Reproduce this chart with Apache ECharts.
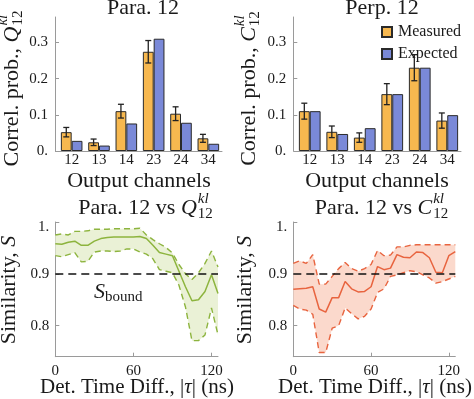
<!DOCTYPE html>
<html>
<head>
<meta charset="utf-8">
<script src="https://cdn.jsdelivr.net/npm/echarts@6/dist/echarts.min.js"></script>
<style>
  html, body { margin: 0; padding: 0; background: #fff; }
  #root { width: 474px; height: 399px; }
</style>
</head>
<body>
<div id="root"></div>
<script>
// bar panels
var channels = ['12', '13', '14', '23', '24', '34'];
var paraMeasured = [0.052, 0.024, 0.110, 0.274, 0.103, 0.035];
var paraMeasuredErr = [0.013, 0.009, 0.019, 0.031, 0.019, 0.011];
var paraExpected = [0.028, 0.015, 0.076, 0.310, 0.078, 0.020];
var perpMeasured = [0.110, 0.053, 0.037, 0.157, 0.230, 0.084];
var perpMeasuredErr = [0.022, 0.016, 0.013, 0.029, 0.036, 0.021];
var perpExpected = [0.110, 0.047, 0.063, 0.157, 0.230, 0.099];
var barTicks = [0, 0.1, 0.2, 0.3];

// similarity panels
var tau = [0, 5, 10, 15, 20, 25, 30, 35, 40, 45, 50, 55, 60, 65, 70, 75, 80, 85, 90, 95, 100, 105, 110, 115, 120, 125];
var simQ = [0.958, 0.957, 0.961, 0.963, 0.955, 0.955, 0.963, 0.968, 0.970, 0.971, 0.971, 0.971, 0.971, 0.972, 0.968, 0.955, 0.941, 0.938, 0.935, 0.905, 0.875, 0.848, 0.850, 0.866, 0.898, 0.862];
var simQUpper = [0.975, 0.977, 0.975, 0.982, 0.982, 0.983, 0.986, 0.986, 0.986, 0.987, 0.987, 0.987, 0.987, 0.988, 0.975, 0.966, 0.958, 0.951, 0.940, 0.918, 0.900, 0.889, 0.902, 0.920, 0.944, 0.913];
var simQLower = [0.935, 0.933, 0.937, 0.941, 0.923, 0.924, 0.942, 0.944, 0.944, 0.943, 0.944, 0.948, 0.948, 0.942, 0.938, 0.929, 0.908, 0.905, 0.902, 0.878, 0.836, 0.771, 0.771, 0.782, 0.834, 0.782];
var simC = [0.870, 0.871, 0.872, 0.875, 0.832, 0.826, 0.854, 0.854, 0.885, 0.871, 0.865, 0.866, 0.875, 0.914, 0.908, 0.911, 0.937, 0.932, 0.931, 0.942, 0.941, 0.931, 0.903, 0.902, 0.935, 0.943];
var simCUpper = [0.920, 0.925, 0.920, 0.937, 0.880, 0.880, 0.895, 0.910, 0.922, 0.910, 0.905, 0.910, 0.918, 0.945, 0.935, 0.936, 0.952, 0.952, 0.955, 0.956, 0.956, 0.956, 0.956, 0.956, 0.956, 0.956];
var simCLower = [0.839, 0.832, 0.830, 0.822, 0.748, 0.748, 0.795, 0.800, 0.834, 0.823, 0.813, 0.818, 0.832, 0.864, 0.871, 0.895, 0.898, 0.902, 0.906, 0.904, 0.898, 0.892, 0.882, 0.885, 0.890, 0.895];
var simBound = 0.9;
var simTicks = [0.8, 0.9, 1.0];
var tauTicks = [0, 60, 120];

var FONT = '"Liberation Serif", "Times New Roman", serif';
var INK = '#1a1a1a';
var ORANGE = '#F7B84F';
var BLUE = '#7A89D8';
var GREEN = '#8DB43E';
var GREEN_FILL = '#EAF1D6';
var RED = '#E8643F';
var RED_FILL = '#FBD9CC';

var measureCtx = document.createElement('canvas').getContext('2d');
function textWidth(s, size, italic) {
  measureCtx.font = (italic ? 'italic ' : '') + size + 'px ' + FONT;
  return measureCtx.measureText(s).width;
}
function textEl(x, y, s, size, italic) {
  return {
    type: 'text', x: x, y: y, silent: true,
    style: {
      text: s, font: (italic ? 'italic ' : '') + size + 'px ' + FONT, fill: INK,
      textAlign: 'left', textVerticalAlign: 'middle', align: 'left', verticalAlign: 'middle'
    }
  };
}
// small helper for labels with italic symbols and stacked sup/sub
function mathText(cx, cy, rotation, parts, size, alignLeft) {
  var children = [];
  var x = 0;
  parts.forEach(function (p) {
    if (p.sup !== undefined) {
      var s = Math.round(size * 0.68);
      children.push(textEl(x + 1, -size * 0.42, p.sup, s, true));
      children.push(textEl(x + 1, size * 0.27, p.sub, s, false));
      x += Math.max(textWidth(p.sup, s, true), textWidth(p.sub, s, false)) + 2;
    } else {
      var fs = p.size || size;
      children.push(textEl(x, p.dy || 0, p.t, fs, p.italic));
      x += textWidth(p.t, fs, p.italic);
    }
  });
  if (!alignLeft) {
    children.forEach(function (c) { c.x -= x / 2; });
  }
  return { type: 'group', x: cx, y: cy, rotation: rotation, children: children };
}

function catAxis(grid) {
  return {
    type: 'category', gridIndex: grid, data: channels,
    axisLine: { lineStyle: { color: '#9a9a9a', width: 1 } },
    axisTick: { show: false },
    axisLabel: { margin: 2, fontSize: 15, fontFamily: FONT, color: INK }
  };
}
function probAxis(grid, offset) {
  return {
    type: 'value', gridIndex: grid, min: 0, max: 0.37, offset: offset,
    splitLine: { show: false },
    axisLine: { show: true, lineStyle: { color: '#9a9a9a', width: 1 } },
    axisTick: { show: true, inside: true, length: 4, customValues: barTicks, lineStyle: { color: '#9a9a9a' } },
    axisLabel: {
      customValues: barTicks, margin: 7, fontSize: 15, fontFamily: FONT, color: INK,
      formatter: function (v) { return v === 0 ? '0.' : v.toFixed(1); }
    }
  };
}
function tauAxis(grid) {
  return {
    type: 'value', gridIndex: grid, min: 0, max: 125,
    splitLine: { show: false },
    axisLine: { lineStyle: { color: '#9a9a9a', width: 1 } },
    axisTick: { show: true, inside: true, length: 4, customValues: tauTicks, lineStyle: { color: '#9a9a9a' } },
    axisLabel: { customValues: tauTicks, margin: 7, fontSize: 15, fontFamily: FONT, color: INK }
  };
}
function simAxis(grid) {
  return {
    type: 'value', gridIndex: grid, min: 0.74, max: 1.0,
    splitLine: { show: false },
    axisLine: { show: true, lineStyle: { color: '#9a9a9a', width: 1 } },
    axisTick: { show: true, inside: true, length: 4, customValues: simTicks, lineStyle: { color: '#9a9a9a' } },
    axisLabel: {
      customValues: simTicks, margin: 6, fontSize: 15, fontFamily: FONT, color: INK,
      formatter: function (v) { return v >= 0.999 ? '{top|1.}' : v.toFixed(1); },
      rich: { top: { fontSize: 15, fontFamily: FONT, color: INK, padding: [10, 0, 0, 0] } }
    }
  };
}

function barSeries(name, values, axis, color) {
  return {
    type: 'bar', name: name, xAxisIndex: axis, yAxisIndex: axis, data: values,
    barGap: '0%', barCategoryGap: '21%',
    itemStyle: { color: color, borderColor: '#2a2a2a', borderWidth: 1 }
  };
}
function errSeries(values, errs, axis) {
  return {
    type: 'custom', xAxisIndex: axis, yAxisIndex: axis, z: 5, silent: true,
    data: values.map(function (v, i) { return [i, v, errs[i]]; }),
    encode: { x: 0, y: 1 },
    renderItem: function (params, api) {
      var i = api.value(0), v = api.value(1), e = api.value(2);
      var band = api.size([1, 0])[0];
      var x = api.coord([i, v])[0] - band * 0.1975;
      var yTop = api.coord([i, v + e])[1];
      var yBot = api.coord([i, v - e])[1];
      var style = { stroke: '#222', lineWidth: 1.3 };
      return {
        type: 'group', children: [
          { type: 'line', shape: { x1: x, y1: yTop, x2: x, y2: yBot }, style: style },
          { type: 'line', shape: { x1: x - 3, y1: yTop, x2: x + 3, y2: yTop }, style: style },
          { type: 'line', shape: { x1: x - 3, y1: yBot, x2: x + 3, y2: yBot }, style: style }
        ]
      };
    }
  };
}
function pairs(arr) { return tau.map(function (t, i) { return [t, arr[i]]; }); }

// shaded band between lower and upper, drawn once as one polygon
function bandSeries(axis, upper, lower, fill) {
  return {
    type: 'custom', xAxisIndex: axis, yAxisIndex: axis, z: 1, silent: true,
    data: tau.map(function (t, i) { return [t, lower[i], upper[i]]; }),
    encode: { x: 0, y: [1, 2] },
    renderItem: function (params, api) {
      if (params.dataIndex !== 0) { return null; }
      var pts = [];
      tau.forEach(function (t, i) { pts.push(api.coord([t, upper[i]])); });
      for (var i = tau.length - 1; i >= 0; i--) { pts.push(api.coord([tau[i], lower[i]])); }
      return { type: 'polygon', shape: { points: pts }, style: { fill: fill } };
    }
  };
}

function simSeries(axis, mid, upper, lower, color, fill) {
  var common = { type: 'line', xAxisIndex: axis, yAxisIndex: axis, symbol: 'none', silent: true, z: 3 };
  return [
    bandSeries(axis, upper, lower, fill),
    Object.assign({}, common, { data: pairs(upper), lineStyle: { color: color, width: 1.4, type: [6, 4] } }),
    Object.assign({}, common, { data: pairs(lower), lineStyle: { color: color, width: 1.4, type: [6, 4] } }),
    Object.assign({}, common, { data: pairs(mid), lineStyle: { color: color, width: 1.5 } }),
    Object.assign({}, common, {
      data: [], z: 6,
      markLine: {
        silent: true, symbol: 'none', label: { show: false },
        lineStyle: { color: '#111', width: 1.6, type: [8, 5] },
        data: [{ yAxis: simBound }]
      }
    })
  ];
}

var chart = echarts.init(document.getElementById('root'), null, { renderer: 'canvas' });

var option = {
  backgroundColor: '#fff',
  animation: false,
  textStyle: { fontFamily: FONT },
  grid: [
    { left: 58, top: 17, width: 164, height: 134 },
    { left: 296, top: 17, width: 165, height: 134 },
    { left: 55.3, top: 222, width: 162.7, height: 134.7 },
    { left: 293.3, top: 222, width: 162, height: 134.7 }
  ],
  xAxis: [catAxis(0), catAxis(1), tauAxis(2), tauAxis(3)],
  yAxis: [probAxis(0, 3), probAxis(1, 2.7), simAxis(2), simAxis(3)],
  legend: {
    data: ['Measured', 'Expected'], orient: 'vertical', left: 376, top: 19,
    icon: 'rect', itemWidth: 10, itemHeight: 10, itemGap: 6,
    textStyle: { fontFamily: FONT, fontSize: 16, color: INK, padding: [0, 0, 0, 1] }
  },
  series: [
    barSeries('Measured', paraMeasured, 0, ORANGE),
    barSeries('Expected', paraExpected, 0, BLUE),
    errSeries(paraMeasured, paraMeasuredErr, 0),
    barSeries('Measured', perpMeasured, 1, ORANGE),
    barSeries('Expected', perpExpected, 1, BLUE),
    errSeries(perpMeasured, perpMeasuredErr, 1)
  ].concat(
    simSeries(2, simQ, simQUpper, simQLower, GREEN, GREEN_FILL),
    simSeries(3, simC, simCUpper, simCLower, RED, RED_FILL)
  ),
  graphic: [
    mathText(143, 8, 0, [{ t: 'Para. 12' }], 22),
    mathText(382, 8, 0, [{ t: 'Perp. 12' }], 22),
    mathText(139, 181, 0, [{ t: 'Output channels' }], 22),
    mathText(377, 181, 0, [{ t: 'Output channels' }], 22),
    mathText(12, 88, Math.PI / 2, [{ t: 'Correl. prob., ' }, { t: 'Q', italic: true }, { sup: 'kl', sub: '12' }], 22),
    mathText(249, 88, Math.PI / 2, [{ t: 'Correl. prob., ' }, { t: 'C', italic: true }, { sup: 'kl', sub: '12' }], 22),
    mathText(146, 208, 0, [{ t: 'Para. 12 vs ' }, { t: 'Q', italic: true }, { sup: 'kl', sub: '12' }], 22),
    mathText(382, 208, 0, [{ t: 'Para. 12 vs ' }, { t: 'C', italic: true }, { sup: 'kl', sub: '12' }], 22),
    mathText(9, 290, Math.PI / 2, [{ t: 'Similarity, ' }, { t: 'S', italic: true }], 22),
    mathText(245, 290, Math.PI / 2, [{ t: 'Similarity, ' }, { t: 'S', italic: true }], 22),
    mathText(137, 387, 0, [{ t: 'Det. Time Diff., |' }, { t: '\u03c4', italic: true }, { t: '| (ns)' }], 21),
    mathText(375, 387, 0, [{ t: 'Det. Time Diff., |' }, { t: '\u03c4', italic: true }, { t: '| (ns)' }], 21),
    mathText(94, 292, 0, [{ t: 'S', italic: true }, { t: 'bound', size: 15, dy: 5 }], 22, true)
  ]
};

chart.setOption(option);
</script>
</body>
</html>
